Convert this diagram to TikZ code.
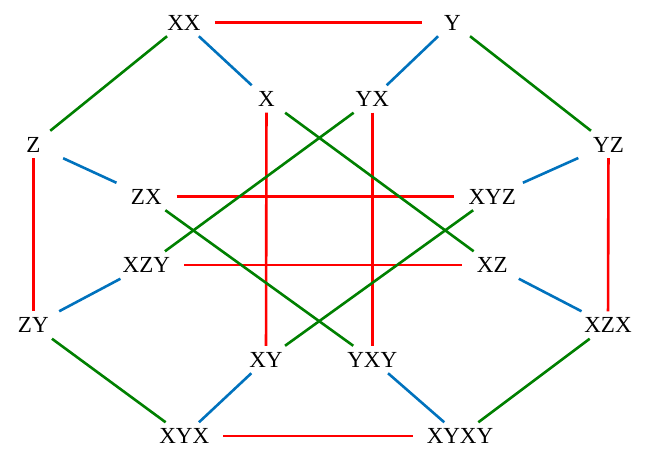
\documentclass[tikz,border=0pt]{standalone}
\usepackage{fontspec}
\setmainfont{Liberation Serif}
\usepackage{tikz}
\definecolor{edgered}{RGB}{255, 0, 0}
\definecolor{edgegreen}{RGB}{0, 128, 0}
\definecolor{edgeblue}{RGB}{0, 114, 189}

\begin{document}
\begin{tikzpicture}[x=1pt, y=-1pt,
    word/.style={inner xsep=14pt, inner ysep=6pt, minimum width=60pt,
                 font=\fontsize{23}{27}\selectfont},
    r/.style={edgered, line width=2.6pt},
    g/.style={edgegreen, line width=2.6pt},
    b/.style={edgeblue, line width=2.6pt}]

  \useasboundingbox (0, 0) rectangle (646, 456);

  % outer ring
  \node[word] (xx)   at (184, 22.5)  {XX};
  \node[word] (y)    at (452.5, 22.5) {Y};
  \node[word] (z)    at (33.3, 144.5) {Z};
  \node[word] (yz)   at (608.5, 144.5) {YZ};
  \node[word] (zy)   at (33.3, 325)  {ZY};
  \node[word] (xzx)  at (608, 325)   {XZX};
  \node[word] (xyx)  at (184.3, 436) {XYX};
  \node[word] (xyxy) at (460, 436)   {XYXY};

  % inner ring
  \node[word] (x)    at (266.5, 99)  {X};
  \node[word] (yx)   at (372.3, 99)  {YX};
  \node[word] (zx)   at (146.3, 196.5) {ZX};
  \node[word] (xyz)  at (492.2, 196.5) {XYZ};
  \node[word] (xzy)  at (146.3, 265) {XZY};
  \node[word] (xz)   at (492.3, 265) {XZ};
  \node[word] (xy)   at (266, 359.5) {XY};
  \node[word] (yxy)  at (372.3, 359.5) {YXY};

  % red
  \draw[r] (xx) -- (y);
  \draw[r] (z) -- (zy);
  \draw[r] (yz) -- (xzx);
  \draw[r] (xyx) -- (xyxy);
  \draw[r] (x) -- (xy);
  \draw[r] (yx) -- (yxy);
  \draw[r] (zx) -- (xyz);
  \draw[r] (xzy) -- (xz);

  % green
  \draw[g] (xx) -- (z);
  \draw[g] (y) -- (yz);
  \draw[g] (zy) -- (xyx);
  \draw[g] (xzx) -- (xyxy);
  \draw[g] (yx) -- (xzy);
  \draw[g] (x) -- (xz);
  \draw[g] (zx) -- (yxy);
  \draw[g] (xyz) -- (xy);

  % blue
  \draw[b] (xx) -- (x);
  \draw[b] (y) -- (yx);
  \draw[b] (z) -- (zx);
  \draw[b] (yz) -- (xyz);
  \draw[b] (zy) -- (xzy);
  \draw[b] (xzx) -- (xz);
  \draw[b] (xyx) -- (xy);
  \draw[b] (xyxy) -- (yxy);

\end{tikzpicture}
\end{document}
